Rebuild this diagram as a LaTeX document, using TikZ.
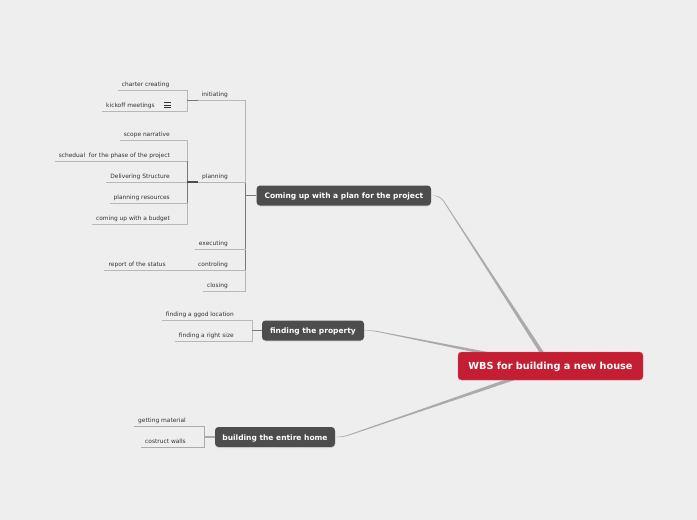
\documentclass[tikz,border=0pt]{standalone}
\usepackage{fontspec}
\setmainfont{DejaVu Sans}
\usetikzlibrary{calc,backgrounds,shadows}
\definecolor{bgc}{HTML}{EEEEEE}
\definecolor{darkbox}{HTML}{4D4D4D}
\definecolor{rootred}{HTML}{C41E33}
\definecolor{rootedge}{HTML}{D8566A}
\definecolor{wedge}{HTML}{ABABAB}
\definecolor{ul}{HTML}{B8B8B8}
\definecolor{trunkd}{HTML}{787878}
\definecolor{txt}{HTML}{333333}
\tikzset{
  leaf/.style={anchor=south east,inner xsep=4pt,inner ysep=1.8pt,text height=4.2pt,text depth=1.2pt,
    text=txt,font=\fontsize{5.9pt}{7pt}\selectfont},
  topic/.style={rounded corners=3.5pt,fill=darkbox,text=white,inner sep=0pt,text height=5.6pt,text depth=0pt,
    font=\fontsize{7.5pt}{9pt}\selectfont\bfseries,
    drop shadow={shadow xshift=0pt,shadow yshift=-1pt,opacity=.18}},
  rootbox/.style={rounded corners=3.5pt,fill=rootred,draw=rootedge,line width=.4pt,text=white,inner sep=0pt,text height=7.6pt,text depth=0pt,
    font=\fontsize{9.7pt}{11pt}\selectfont\bfseries},
  under/.style={draw=ul,line width=1pt},
  trunk/.style={draw=trunkd,line width=1pt},
  conn/.style={fill=wedge}
}
\begin{document}
\begin{tikzpicture}[x=1pt,y=-1pt]
\useasboundingbox (0,0) rectangle (697,520);
% main nodes
\node[rootbox,minimum width=185pt,minimum height=28pt] (root) at (550.5,366) {WBS for building a new house};
\node[topic,minimum width=174.5pt,minimum height=20pt] (coming) at (343.8,195.5) {Coming up with a plan for the project};
\node[topic,text height=6.2pt,minimum width=102pt,minimum height=20pt] (property) at (313,330.5) {finding the property};
\node[topic,text height=7.4pt,minimum width=120pt,minimum height=20pt] (building) at (275,437) {building the entire home};
% first-level labels
\node[leaf] (initiating) at (232,100) {initiating};
\node[leaf] (planning) at (232,182) {planning};
\node[leaf] (executing) at (232,249) {executing};
\node[leaf] (controling) at (232,270) {controling};
\node[leaf] (closing) at (232,291) {closing};
% leaves
\node[leaf] (charter) at (173.5,90) {charter creating};
\node[leaf] (kickoff) at (159,111) {kickoff meetings};
\node[leaf] (scope) at (174,140) {scope narrative};
\node[leaf] (schedual) at (174,161) {schedual\ \ for the phase of the project};
\node[leaf] (delivering) at (174,182) {Delivering Structure};
\node[leaf] (resources) at (174,203) {planning resources};
\node[leaf] (budget) at (174,224) {coming up with a budget};
\node[leaf] (report) at (170,270) {report of the status};
\node[leaf] (location) at (238,320) {finding a ggod location};
\node[leaf] (size) at (238,341) {finding a right size};
\node[leaf] (material) at (190,426) {getting material};
\node[leaf] (walls) at (190,447) {costruct walls};
% junction columns
\coordinate (jI) at (187,100);
\coordinate (jP) at (187,182);
\coordinate (jT) at (245.5,195.5);
\coordinate (jF) at (252,330.5);
\coordinate (jB) at (204,437);
\begin{scope}[on background layer]
\fill[bgc] (0,0) rectangle (697,520);
% tapered branches from the root
\fill[conn] (coming.east) .. controls (437,195.2) and (440,196.2) .. (443.6,200.4)
  -- ($(root.center)+(1.7,-1.1)$) -- ($(root.center)+(-1.7,1.1)$)
  -- (443,200.9) .. controls (439.6,196.9) and (437,195.9) .. (coming.east) -- cycle;
\fill[conn] (property.east) .. controls (372,330.2) and (375,330.6) .. (378,331.2)
  -- ($(root.center)+(.4,-2)$) -- ($(root.center)+(-.4,2)$)
  -- (377.8,332) .. controls (375,331.4) and (372,331) .. (property.east) -- cycle;
\fill[conn] (building.east) .. controls (341,436.6) and (344,436.2) .. (347,435.2)
  -- ($(root.center)+(-.66,-1.9)$) -- ($(root.center)+(.66,1.9)$)
  -- (347.3,436) .. controls (344,437) and (341,437.4) .. (building.east) -- cycle;
\end{scope}
% coming-up trunk
\draw[under] (initiating.south west -| jI) -- (initiating.south west -| jT);
\draw[under] (initiating.south west -| jT) -- (planning.south west -| jT);
\draw[trunk] (planning.south west -| jT) -- (controling.south west -| jT);
\draw[under] (controling.south west -| jT) -- (closing.south west -| jT);
\draw[trunk] (jT) -- (coming.west);
\draw[under] (planning.south west -| jP) -- (planning.south east -| jT);
\draw[under] (executing.south west) -- (executing.south west -| jT);
\draw[under] (report.south west) -- (report.south west -| jT);
\draw[under] (closing.south west) -- (closing.south west -| jT);
% initiating group
\draw[under] (charter.south west) -- (charter.south west -| jI) -- (kickoff.south east -| jI) -- (kickoff.south west);
\draw[trunk] (jI) -- (initiating.south west);
% planning group
\draw[under] (scope.south west) -- (scope.south west -| jP) -- (schedual.south west -| jP);
\draw[under] (schedual.south west) -- (schedual.south west -| jP);
\draw[under] (delivering.south west) -- (jP);
\draw[under] (resources.south west) -- (resources.south west -| jP);
\draw[under] (budget.south west) -- (budget.south west -| jP) -- (resources.south west -| jP);
\draw[trunk] (schedual.south west -| jP) -- (resources.south west -| jP);
\draw[draw=darkbox,line width=1.3pt] (jP) -- (planning.south west);
% property group
\draw[under] (location.south west) -- (location.south west -| jF) -- (size.south west -| jF) -- (size.south west);
\draw[trunk] (jF) -- (property.west);
% building group
\draw[under,draw=wedge,line width=.7pt] (material.south west) -- (material.south west -| jB) -- (walls.south west -| jB) -- (walls.south west);
\draw[draw=wedge,line width=1.3pt] (jB) -- (building.west);
% note icon on kickoff meetings
\draw[draw=txt,line width=.5pt] (164,102.3) -- (170.7,102.3) (164,105) -- (170.7,105) (164,107.7) -- (170.7,107.7);
\end{tikzpicture}
\end{document}
